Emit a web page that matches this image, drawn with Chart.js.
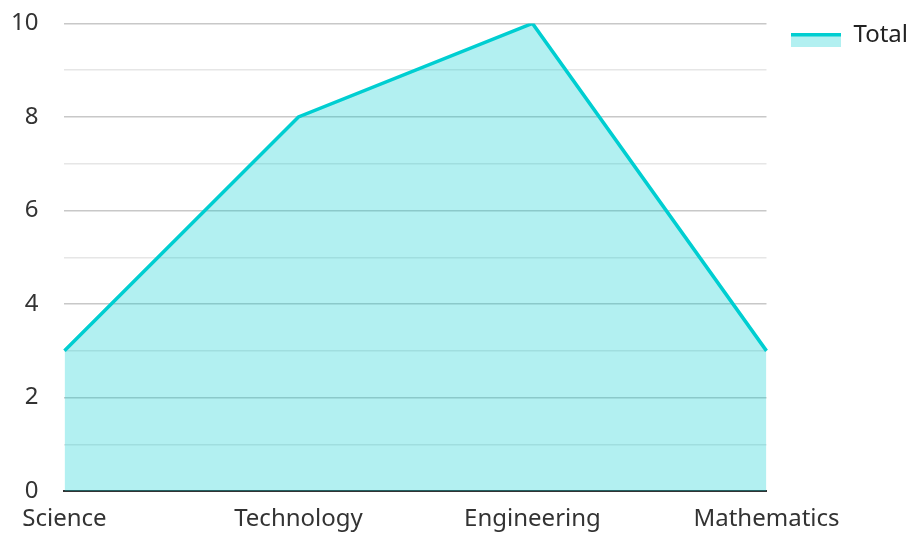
<!DOCTYPE html>
<html>
<head>
<meta charset="utf-8">
<script src="https://cdn.jsdelivr.net/npm/chart.js@4"></script>
<style>
  html, body { margin: 0; padding: 0; background: #fff; }
  #wrap { width: 908px; height: 533px; }
</style>
</head>
<body>
<div id="wrap"><canvas id="stem"></canvas></div>
<script>
const categories = ["Science", "Technology", "Engineering", "Mathematics"];
const totals = [3, 8, 10, 3];
const yTicks = [0, 2, 4, 6, 8, 10];

const lineColor = 'rgb(0, 206, 209)';
const fillColor = 'rgba(0, 206, 209, 0.3)';

// legend swatch: fill block with a thick line on top (sits a little below the text)
const swatch = document.createElement('canvas');
swatch.width = 50;
swatch.height = 24;
const sctx = swatch.getContext('2d');
sctx.fillStyle = fillColor;
sctx.fillRect(0, 10, 50, 14);
sctx.fillStyle = lineColor;
sctx.fillRect(0, 10, 50, 3.5);

// nudge the legend a bit away from the plot
const legendNudge = {
    id: 'legendNudge',
    afterLayout(chart) {
        const lg = chart.legend;
        lg.left += 15; lg.right += 15;
        lg.top += 13; lg.bottom += 13;
    }
};

Chart.defaults.font.family = "'Noto Sans', sans-serif";
Chart.defaults.font.size = 24;
Chart.defaults.color = '#333';

const ctx = document.getElementById('stem').getContext('2d');

const chart = new Chart(ctx, {
    type: 'line',
    data: {
        labels: categories,
        datasets: [{
            label: "Total",
            data: totals,
            borderColor: lineColor,
            backgroundColor: fillColor,
            fill: 'origin',
            borderWidth: 3.5,
            pointRadius: 0,
            tension: 0,
            pointStyle: swatch
        }]
    },
    options: {
        responsive: true,
        maintainAspectRatio: false,
        animation: false,
        layout: {
            padding: { top: 0, left: -15, right: 5, bottom: -15 }
        },
        scales: {
            x: {
                offset: false,
                grid: { display: false, drawTicks: false },
                border: { display: true, color: '#333', width: 2 },
                ticks: { padding: 14, maxRotation: 0 }
            },
            y: {
                min: 0,
                max: 10,
                border: { display: false },
                grid: {
                    drawTicks: false,
                    color: (c) => (yTicks.includes(c.tick.value) ? '#c8c8c8' : '#e6e6e6'),
                    lineWidth: 1.5
                },
                ticks: {
                    stepSize: 1,
                    padding: 26,
                    callback: (v) => (yTicks.includes(v) ? v : '')
                },
                // tick padding also pads the top; take that back
                afterFit: (s) => { s.paddingTop -= 17; }
            }
        },
        plugins: {
            legend: {
                display: true,
                position: 'right',
                align: 'start',
                labels: {
                    usePointStyle: true,
                    pointStyleWidth: 50,
                    boxHeight: 14,
                    padding: 10,
                    color: '#222'
                }
            },
            tooltip: { enabled: false }
        }
    },
    plugins: [legendNudge]
});
</script>
</body>
</html>
